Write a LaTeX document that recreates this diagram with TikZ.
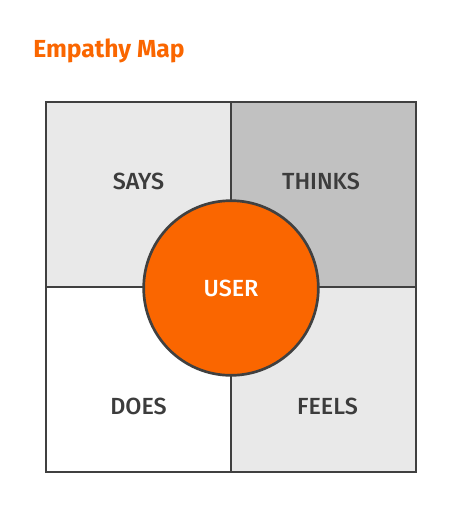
\documentclass[tikz,border=0pt]{standalone}
\usepackage{fontspec}
\setmainfont{Fira Sans}
\newfontfamily\labelfont{Fira Sans Medium}
\usetikzlibrary{positioning}
\definecolor{emporange}{HTML}{FA6600}
\definecolor{empline}{HTML}{404040}
\definecolor{emplight}{HTML}{E9E9E9}
\definecolor{empdark}{HTML}{C1C1C1}
\definecolor{emptext}{HTML}{3C3C3C}

\begin{document}
\begin{tikzpicture}[x=0.75pt, y=-0.75pt,
  quad/.style={draw=empline, line width=2.2pt, minimum width=138.75pt,
    minimum height=138.75pt, inner sep=0pt},
  tag/.style={font=\labelfont\fontsize{17.5}{17.5}\selectfont, text=emptext},
  user/.style={circle, draw=empline, line width=2pt, fill=emporange,
    minimum size=131pt, inner sep=0pt, text=white,
    font=\labelfont\fontsize{17.5}{17.5}\selectfont}]
\useasboundingbox (0,0) rectangle (465,511);
\node[font=\bfseries\fontsize{18.5}{18.5}\selectfont, text=emporange,
  anchor=base west, inner sep=0pt] (title) at (33,57) {Empathy Map};
\node[quad, fill=emplight] (says) at (138.5,194.5) {};
\node[quad, fill=empdark] (thinks) at (323.5,194.5) {};
\node[quad, fill=white] (does) at (138.5,379.5) {};
\node[quad, fill=emplight] (feels) at (323.5,379.5) {};
\node[user] (user) at (231,288) {USER};
\node[tag] (saystext) at (138.5,181) {SAYS};
\node[tag] (thinkstext) at (321,181) {THINKS};
\node[tag] (doestext) at (138.5,406) {DOES};
\node[tag] (feelstext) at (327.5,406) {FEELS};
\end{tikzpicture}
\end{document}
